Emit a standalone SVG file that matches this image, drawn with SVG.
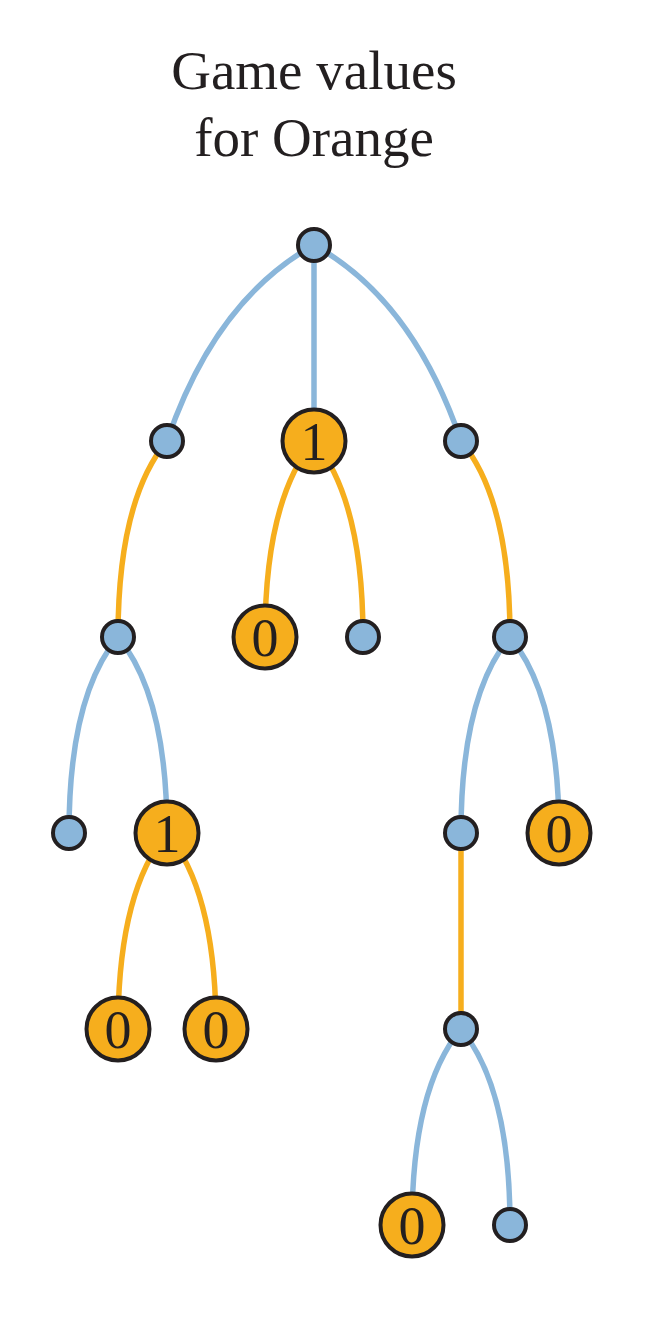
<svg xmlns="http://www.w3.org/2000/svg" width="654" height="1320" viewBox="0 0 654 1320">
<style>
.title{font-family:"Liberation Serif","Times New Roman",serif;font-size:55px;fill:#231f20;text-anchor:middle}
.e{fill:none;stroke-width:5.5}
.b{stroke:#8ab6da}
.o{stroke:#f6ae1d}
.nb{fill:#8ab6da;stroke:#231f20;stroke-width:4}
.no{fill:#f6ae1d;stroke:#231f20;stroke-width:4}
.d{font-family:"Liberation Serif","Times New Roman",serif;font-size:54px;fill:#231f20;text-anchor:middle}
</style>
<rect width="654" height="1320" fill="#ffffff"/>
<g id="title">
<text class="title" x="314" y="89">Game values</text>
<text class="title" x="314" y="156">for Orange</text>
</g>
<g id="connectors">
<path class="e b" d="M314,245 Q215,300 167,441"/>
<path class="e b" d="M314,245 L314,441"/>
<path class="e b" d="M314,245 Q413,300 461,441"/>
<path class="e o" d="M167,441 Q118,500 118,637"/>
<path class="e o" d="M314,441 Q265,500 265,637"/>
<path class="e o" d="M314,441 Q363,500 363,637"/>
<path class="e o" d="M461,441 Q510,500 510,637"/>
<path class="e b" d="M118,637 Q69,696 69,833"/>
<path class="e b" d="M118,637 Q167,696 167,833"/>
<path class="e b" d="M510,637 Q461,696 461,833"/>
<path class="e b" d="M510,637 Q559,696 559,833"/>
<path class="e o" d="M167,833 Q118,892 118,1029"/>
<path class="e o" d="M167,833 Q216,892 216,1029"/>
<path class="e o" d="M461,833 L461,1029"/>
<path class="e b" d="M461,1029 Q412,1088 412,1225"/>
<path class="e b" d="M461,1029 Q510,1088 510,1225"/>
</g>
<g id="n-root"><circle class="nb" cx="314" cy="245" r="16"/></g>
<g id="n-l1a"><circle class="nb" cx="167" cy="441" r="16"/></g>
<g id="n-l1b"><circle class="no" cx="314" cy="441" r="31.5"/><text class="d" x="314" y="460">1</text></g>
<g id="n-l1c"><circle class="nb" cx="461" cy="441" r="16"/></g>
<g id="n-l2a"><circle class="nb" cx="118" cy="637" r="16"/></g>
<g id="n-l2b"><circle class="no" cx="265" cy="637" r="31.5"/><text class="d" x="265" y="656">0</text></g>
<g id="n-l2c"><circle class="nb" cx="363" cy="637" r="16"/></g>
<g id="n-l2d"><circle class="nb" cx="510" cy="637" r="16"/></g>
<g id="n-l3a"><circle class="nb" cx="69" cy="833" r="16"/></g>
<g id="n-l3b"><circle class="no" cx="167" cy="833" r="31.5"/><text class="d" x="167" y="852">1</text></g>
<g id="n-l3c"><circle class="nb" cx="461" cy="833" r="16"/></g>
<g id="n-l3d"><circle class="no" cx="559" cy="833" r="31.5"/><text class="d" x="559" y="852">0</text></g>
<g id="n-l4a"><circle class="no" cx="118" cy="1029" r="31.5"/><text class="d" x="118" y="1048">0</text></g>
<g id="n-l4b"><circle class="no" cx="216" cy="1029" r="31.5"/><text class="d" x="216" y="1048">0</text></g>
<g id="n-l4c"><circle class="nb" cx="461" cy="1029" r="16"/></g>
<g id="n-l5a"><circle class="no" cx="412" cy="1225" r="31.5"/><text class="d" x="412" y="1244">0</text></g>
<g id="n-l5b"><circle class="nb" cx="510" cy="1225" r="16"/></g>
</svg>
